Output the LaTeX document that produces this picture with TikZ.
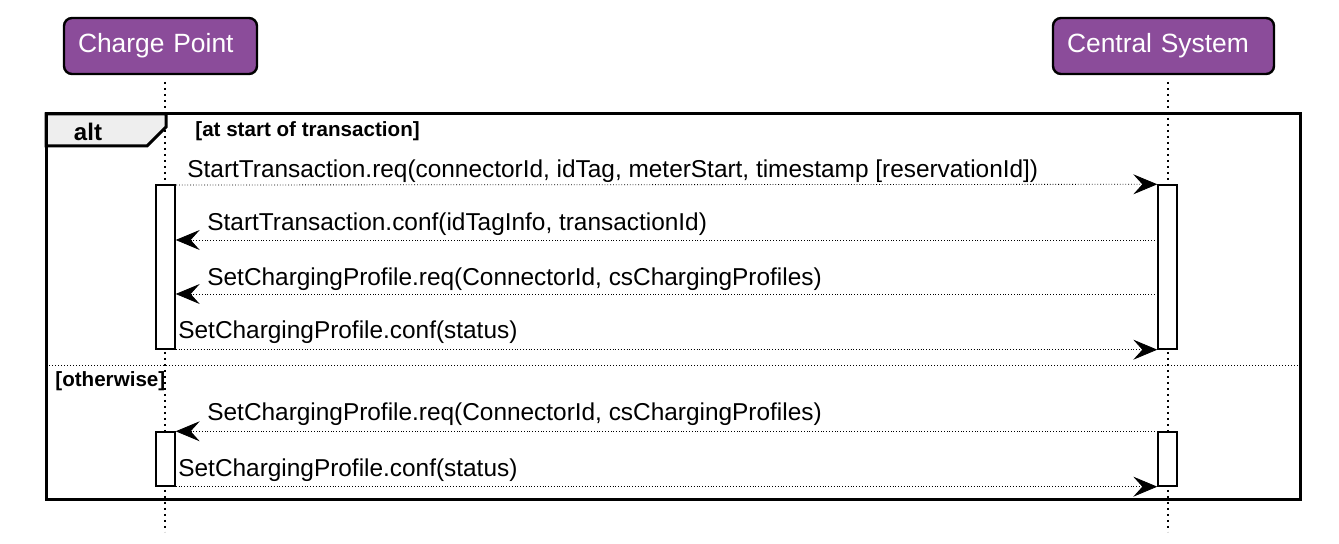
\documentclass[tikz,border=0pt]{standalone}
\usepackage{fontspec}
\setmainfont{Liberation Sans}
\usepackage{xcolor}
\usepackage{tikz}
\usetikzlibrary{arrows.meta}
\usetikzlibrary{calc}

\definecolor{actorPurple}{HTML}{8B4C9A}
\definecolor{tagGrey}{HTML}{EEEEEE}

\begin{document}
\begin{tikzpicture}
[
	x = 0.5pt, y = -0.5pt,
	actor/.style	= {rectangle, rounded corners = 4pt, draw = black, line width = 1.2pt, fill = actorPurple, text = white, minimum height = 28pt, inner ysep = 0pt, inner xsep = 7pt, align = left, font = \fontsize{13.2}{15}\selectfont},
	life/.style	= {dotted, line width = 1pt},
	act/.style	= {rectangle, draw = black, fill = white, line width = 0.7pt, minimum width = 9.5pt, inner sep = 0pt},
	msg/.style	= {densely dotted, line width = 0.4pt, -{Stealth[length = 12pt, width = 10pt, inset = 4.5pt]}},
	lbl/.style	= {anchor = base west, inner sep = 0pt, font = \fontsize{12.2}{14}\selectfont},
	guard/.style	= {anchor = base west, inner sep = 0pt, font = \bfseries\fontsize{10.3}{12}\selectfont},
	frameline/.style = {line width = 1.5pt},
	separator/.style = {densely dotted, line width = 0.5pt},
]
	\useasboundingbox (0,0) rectangle (1339,544);

	% participants
	\node (cp) [actor, text width = 82.5pt] at (160.5,46) {Charge Point};
	\node (cs) [actor, text width = 96.5pt] at (1163.5,46) {Central System};
	%
	\coordinate (cpTop) at (165,82);
	\coordinate (cpBot) at (165,532);
	\coordinate (csTop) at (1167.5,82);
	\coordinate (csBot) at (1167.5,532);
	\draw [life] (cpTop) -- (cpBot);
	\draw [life] (csTop) -- (csBot);

	% alt frame
	\coordinate (altNW) at (46,114);
	\coordinate (altSE) at (1300,500);
	\draw [frameline, fill = tagGrey] (altNW) -- (166,114) -- (166,127) -- (147,146) -- (46,146) -- cycle;
	\draw [frameline] (altNW) rectangle (altSE);
	\node (altTag) [font = \bfseries\fontsize{12}{14}\selectfont] at (88,132) {alt};
	\node (guard1) [guard] at (195,137) {[at start of transaction]};
	%
	\coordinate (sepL) at (46,366);
	\coordinate (sepR) at (1300,366);
	\draw [separator] (sepL) -- (sepR);
	\node (guard2) [guard] at (55,387) {[otherwise]};

	% activations
	\node (cpAct1) [act, minimum height = 82pt] at (165.5,267) {};
	\node (csAct1) [act, minimum height = 82pt] at (1167.5,267) {};
	\node (cpAct2) [act, minimum height = 27pt] at (165.5,459) {};
	\node (csAct2) [act, minimum height = 27pt] at (1167.5,459) {};

	% messages
	\coordinate (m1) at (0,185);
	\coordinate (m2) at (0,240);
	\coordinate (m3) at (0,294);
	\coordinate (m4) at (0,349);
	\coordinate (m5) at (0,432);
	\coordinate (m6) at (0,486);

	\draw [msg] (cpTop |- m1) -- (csAct1.north west);
	\draw [msg] (csAct1.west |- m2) -- (cpAct1.east |- m2);
	\draw [msg] (csAct1.west |- m3) -- (cpAct1.east |- m3);
	\draw [msg] (cpAct1.south east) -- (csAct1.south west);
	\draw [msg] (csAct2.north west) -- (cpAct2.north east);
	\draw [msg] (cpAct2.south east) -- (csAct2.south west);

	\node (l1) [lbl] at (187,178) {StartTransaction.req(connectorId, idTag, meterStart, timestamp [reservationId])};
	\node (l2) [lbl] at (207,231) {StartTransaction.conf(idTagInfo, transactionId)};
	\node (l3) [lbl] at (207,286) {SetChargingProfile.req(ConnectorId, csChargingProfiles)};
	\node (l4) [lbl] at (178,339) {SetChargingProfile.conf(status)};
	\node (l5) [lbl] at (207,421) {SetChargingProfile.req(ConnectorId, csChargingProfiles)};
	\node (l6) [lbl] at (178,477) {SetChargingProfile.conf(status)};

\end{tikzpicture}
\end{document}
